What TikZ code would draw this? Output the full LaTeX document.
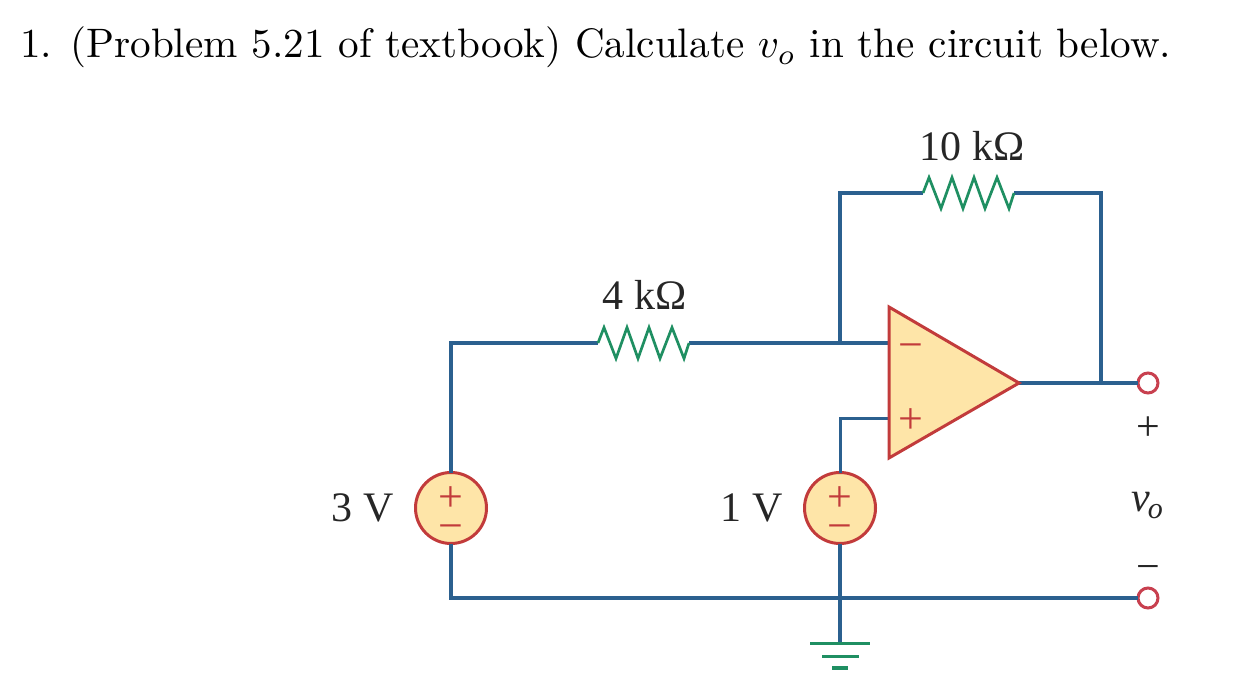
\documentclass[tikz,border=0pt]{standalone}
\usepackage{amsmath}
\usepackage{fontspec}
\usepackage{xcolor}
\usetikzlibrary{positioning}
\newfontfamily\labelfont{Liberation Serif}
\definecolor{wireblue}{HTML}{2B608F}
\definecolor{partred}{HTML}{C23B3B}
\definecolor{partfill}{HTML}{FEE5A8}
\definecolor{termred}{HTML}{C8404F}
\definecolor{resgreen}{HTML}{1F8F62}
\tikzset{x=1pt,y=-1pt,
    wire/.style={draw=wireblue,line width=3.8pt},
    thin wire/.style={draw=wireblue,line width=3pt},
    res line/.style={draw=resgreen,line width=2.7pt,line join=miter},
    gnd line/.style={draw=resgreen,line width=3pt},
    source node/.style={circle,draw=partred,fill=partfill,line width=3pt,minimum size=71pt,inner sep=0pt,outer sep=0pt},
    res node/.style={minimum width=91pt,minimum height=30pt,inner sep=0pt,outer sep=0pt},
    term node/.style={circle,draw=termred,fill=white,line width=3pt,minimum size=20pt,inner sep=0pt,outer sep=0pt},
    value node/.style={inner sep=0pt,outer sep=0pt,text=black!85,font=\labelfont\fontsize{42}{42}\selectfont},
    sign node/.style={inner sep=0pt,outer sep=0pt,text=partred,text height=22pt,text depth=0pt,font=\labelfont\fontsize{44}{44}\selectfont},
    title node/.style={inner sep=0pt,outer sep=0pt,scale=4.115},
            }
\newcommand{\zigzag}[1]{\draw[res line] (#1.west) -- ++(6,-15.5) -- ++(12,31) -- ++(11,-31) -- ++(11,31) -- ++(11,-31) -- ++(11,31) -- ++(12,-31) -- ++(12,31) -- (#1.east);}

\begin{document}
\begin{tikzpicture}
    \useasboundingbox (0,0) rectangle (1236,695);

    \node[title node,anchor=base west] (title) at (20,58) {1. (Problem 5.21 of textbook) Calculate $v_o$ in the circuit below.};

    \node[source node] (vs1) at (451,508) {};
    \node[source node] (vs2) at (840,508) {};
    \node[res node] (r1) at (643.5,343) {};
    \node[res node] (r2) at (968.5,193) {};
    \node[term node] (t1) at (1148,383) {};
    \node[term node] (t2) at (1148,598) {};

    \coordinate (inm) at (889,343);
    \coordinate (inp) at (889,418);
    \coordinate (tip) at (1019,383);
    \coordinate (j1) at (840,343);
    \coordinate (j2) at (1101,383);
    \coordinate (gnd) at (840,643);

    % wires
    \path[wire] (vs1.north) |- (r1.west);
    \path[wire] (r1.east) -- (inm);
    \path[wire] (j1) |- (r2.west);
    \path[wire] (r2.east) -| (j2);
    \path[wire] (tip) -- (t1.west);
    \path[wire] (vs1.south) |- (t2.west);
    \path[wire] (vs2.south) -- (gnd);
    \path[thin wire] (vs2.north) |- (inp);

    \zigzag{r1}
    \zigzag{r2}

    % op amp
    \draw[draw=partred,fill=partfill,line width=3pt,line join=miter] (889,307) -- (tip) -- (889,458) -- cycle;
    \node[sign node] (minus) at (911,348) {−};
    \node[sign node] (plus) at (911,422) {+};

    % source signs
    \node[sign node] (p1) at (451,500) {+};
    \node[sign node] (m1) at (451,529) {−};
    \node[sign node] (p2) at (840,500) {+};
    \node[sign node] (m2) at (840,529) {−};

    % ground
    \path[gnd line] (810,643) -- (870,643);
    \path[gnd line] (822,656) -- (859,656);
    \path[gnd line,line width=4pt] (832,668) -- (848,668);

    % labels
    \node[value node] (l3) [left = 22pt of vs1] {3 V};
    \node[value node] (l1) [left = 22pt of vs2] {1 V};
    \node[value node] (l4k) [above = 19pt of r1,xshift=1pt] {4 kΩ};
    \node[value node] (l10k) [above = 17pt of r2,xshift=3.5pt] {10 kΩ};
    \node[value node] (vp) [below = 24pt of t1] {+};
    \node[value node] (vo) at (1147,506) {\textit{v}\kern-2pt\raisebox{-7pt}{\fontsize{30}{30}\selectfont\textit{o}}};
    \node[value node] (vm) at (1148,573) {−};

\end{tikzpicture}
\end{document}
